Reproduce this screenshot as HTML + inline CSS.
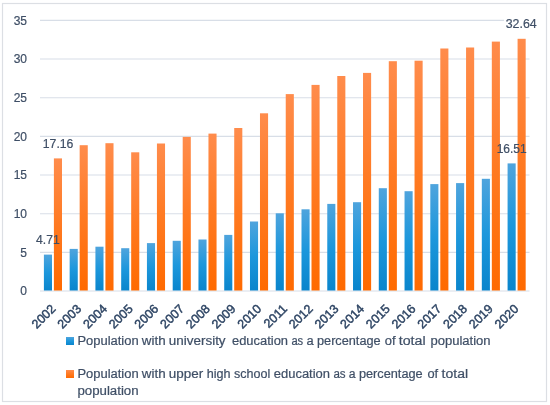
<!DOCTYPE html>
<html><head><meta charset="utf-8"><title>chart</title>
<style>
html,body{margin:0;padding:0;background:#fff;}
body{width:550px;height:405px;overflow:hidden;}
svg{display:block;}
text{font-family:"Liberation Sans",sans-serif;fill:#3f4f66;stroke:#3f4f66;stroke-width:0.2px;}
.lg{font-size:12px;}
.xl{fill:#2e4564;stroke:#2e4564;stroke-width:0.45px;}
</style></head><body>
<svg width="550" height="405" viewBox="0 0 550 405">
<defs>
<linearGradient id="gb" x1="0" y1="0" x2="0" y2="1"><stop offset="0" stop-color="#4fa4dd"/><stop offset="0.5" stop-color="#1c97dc"/><stop offset="1" stop-color="#0a85cc"/></linearGradient>
<linearGradient id="go" x1="0" y1="0" x2="0" y2="1"><stop offset="0" stop-color="#ff8c4c"/><stop offset="0.5" stop-color="#ff7a22"/><stop offset="1" stop-color="#ff6a00"/></linearGradient>
</defs>
<rect x="0" y="0" width="550" height="405" fill="#ffffff"/>
<rect x="2.5" y="3.5" width="544" height="398" fill="#ffffff" stroke="#dcdfe4" stroke-width="1.2"/>

<line x1="40" y1="291.00" x2="529.5" y2="291.00" stroke="#d8dee7" stroke-width="1.1"/>
<line x1="40" y1="252.34" x2="529.5" y2="252.34" stroke="#d8dee7" stroke-width="1.1"/>
<line x1="40" y1="213.69" x2="529.5" y2="213.69" stroke="#d8dee7" stroke-width="1.1"/>
<line x1="40" y1="175.03" x2="529.5" y2="175.03" stroke="#d8dee7" stroke-width="1.1"/>
<line x1="40" y1="136.37" x2="529.5" y2="136.37" stroke="#d8dee7" stroke-width="1.1"/>
<line x1="40" y1="97.71" x2="529.5" y2="97.71" stroke="#d8dee7" stroke-width="1.1"/>
<line x1="40" y1="59.06" x2="529.5" y2="59.06" stroke="#d8dee7" stroke-width="1.1"/>
<line x1="40" y1="20.40" x2="504" y2="20.40" stroke="#d8dee7" stroke-width="1.1"/>
<rect x="43.90" y="254.6" width="8.1" height="35.9" fill="url(#gb)"/>
<rect x="53.90" y="158.4" width="8.1" height="132.1" fill="url(#go)"/>
<rect x="69.66" y="248.9" width="8.1" height="41.6" fill="url(#gb)"/>
<rect x="79.66" y="145.2" width="8.1" height="145.3" fill="url(#go)"/>
<rect x="95.42" y="246.7" width="8.1" height="43.8" fill="url(#gb)"/>
<rect x="105.42" y="143.2" width="8.1" height="147.3" fill="url(#go)"/>
<rect x="121.18" y="248.2" width="8.1" height="42.3" fill="url(#gb)"/>
<rect x="131.18" y="152.3" width="8.1" height="138.2" fill="url(#go)"/>
<rect x="146.94" y="243.1" width="8.1" height="47.4" fill="url(#gb)"/>
<rect x="156.94" y="143.5" width="8.1" height="147.0" fill="url(#go)"/>
<rect x="172.70" y="240.8" width="8.1" height="49.7" fill="url(#gb)"/>
<rect x="182.70" y="136.9" width="8.1" height="153.6" fill="url(#go)"/>
<rect x="198.46" y="239.5" width="8.1" height="51.0" fill="url(#gb)"/>
<rect x="208.46" y="133.6" width="8.1" height="156.9" fill="url(#go)"/>
<rect x="224.22" y="234.9" width="8.1" height="55.6" fill="url(#gb)"/>
<rect x="234.22" y="128.0" width="8.1" height="162.5" fill="url(#go)"/>
<rect x="249.98" y="221.5" width="8.1" height="69.0" fill="url(#gb)"/>
<rect x="259.98" y="113.3" width="8.1" height="177.2" fill="url(#go)"/>
<rect x="275.74" y="213.3" width="8.1" height="77.2" fill="url(#gb)"/>
<rect x="285.74" y="94.1" width="8.1" height="196.4" fill="url(#go)"/>
<rect x="301.50" y="209.3" width="8.1" height="81.2" fill="url(#gb)"/>
<rect x="311.50" y="84.9" width="8.1" height="205.6" fill="url(#go)"/>
<rect x="327.26" y="203.9" width="8.1" height="86.6" fill="url(#gb)"/>
<rect x="337.26" y="76.0" width="8.1" height="214.5" fill="url(#go)"/>
<rect x="353.02" y="202.2" width="8.1" height="88.3" fill="url(#gb)"/>
<rect x="363.02" y="72.9" width="8.1" height="217.6" fill="url(#go)"/>
<rect x="378.78" y="188.2" width="8.1" height="102.3" fill="url(#gb)"/>
<rect x="388.78" y="61.2" width="8.1" height="229.3" fill="url(#go)"/>
<rect x="404.54" y="191.2" width="8.1" height="99.3" fill="url(#gb)"/>
<rect x="414.54" y="60.7" width="8.1" height="229.8" fill="url(#go)"/>
<rect x="430.30" y="184.1" width="8.1" height="106.4" fill="url(#gb)"/>
<rect x="440.30" y="48.5" width="8.1" height="242.0" fill="url(#go)"/>
<rect x="456.06" y="183.1" width="8.1" height="107.4" fill="url(#gb)"/>
<rect x="466.06" y="47.5" width="8.1" height="243.0" fill="url(#go)"/>
<rect x="481.82" y="178.8" width="8.1" height="111.7" fill="url(#gb)"/>
<rect x="491.82" y="41.6" width="8.1" height="248.9" fill="url(#go)"/>
<rect x="507.58" y="163.4" width="8.1" height="127.1" fill="url(#gb)"/>
<rect x="517.58" y="38.8" width="8.1" height="251.7" fill="url(#go)"/>
<text x="27" y="295.3" font-size="12" text-anchor="end">0</text>
<text x="27" y="256.6" font-size="12" text-anchor="end">5</text>
<text x="27" y="218.0" font-size="12" text-anchor="end">10</text>
<text x="27" y="179.3" font-size="12" text-anchor="end">15</text>
<text x="27" y="140.7" font-size="12" text-anchor="end">20</text>
<text x="27" y="102.0" font-size="12" text-anchor="end">25</text>
<text x="27" y="63.4" font-size="12" text-anchor="end">30</text>
<text x="27" y="24.7" font-size="12" text-anchor="end">35</text>
<text class="xl" transform="translate(56.40,309.6) rotate(-45)" font-size="12.5" text-anchor="end">2002</text>
<text class="xl" transform="translate(82.12,309.6) rotate(-45)" font-size="12.5" text-anchor="end">2003</text>
<text class="xl" transform="translate(107.84,309.6) rotate(-45)" font-size="12.5" text-anchor="end">2004</text>
<text class="xl" transform="translate(133.56,309.6) rotate(-45)" font-size="12.5" text-anchor="end">2005</text>
<text class="xl" transform="translate(159.28,309.6) rotate(-45)" font-size="12.5" text-anchor="end">2006</text>
<text class="xl" transform="translate(185.00,309.6) rotate(-45)" font-size="12.5" text-anchor="end">2007</text>
<text class="xl" transform="translate(210.72,309.6) rotate(-45)" font-size="12.5" text-anchor="end">2008</text>
<text class="xl" transform="translate(236.44,309.6) rotate(-45)" font-size="12.5" text-anchor="end">2009</text>
<text class="xl" transform="translate(262.16,309.6) rotate(-45)" font-size="12.5" text-anchor="end">2010</text>
<text class="xl" transform="translate(287.88,309.6) rotate(-45)" font-size="12.5" text-anchor="end">2011</text>
<text class="xl" transform="translate(313.60,309.6) rotate(-45)" font-size="12.5" text-anchor="end">2012</text>
<text class="xl" transform="translate(339.32,309.6) rotate(-45)" font-size="12.5" text-anchor="end">2013</text>
<text class="xl" transform="translate(365.04,309.6) rotate(-45)" font-size="12.5" text-anchor="end">2014</text>
<text class="xl" transform="translate(390.76,309.6) rotate(-45)" font-size="12.5" text-anchor="end">2015</text>
<text class="xl" transform="translate(416.48,309.6) rotate(-45)" font-size="12.5" text-anchor="end">2016</text>
<text class="xl" transform="translate(442.20,309.6) rotate(-45)" font-size="12.5" text-anchor="end">2017</text>
<text class="xl" transform="translate(467.92,309.6) rotate(-45)" font-size="12.5" text-anchor="end">2018</text>
<text class="xl" transform="translate(493.64,309.6) rotate(-45)" font-size="12.5" text-anchor="end">2019</text>
<text class="xl" transform="translate(519.36,309.6) rotate(-45)" font-size="12.5" text-anchor="end">2020</text>
<text x="42.8" y="147.8" font-size="12" textLength="30.6" lengthAdjust="spacingAndGlyphs">17.16</text>
<text x="36" y="244" font-size="12" textLength="23.7" lengthAdjust="spacingAndGlyphs">4.71</text>
<text x="505.7" y="27.8" font-size="12" textLength="31" lengthAdjust="spacingAndGlyphs">32.64</text>
<text x="496.7" y="152.9" font-size="12" textLength="30" lengthAdjust="spacingAndGlyphs">16.51</text>
<rect x="66" y="337" width="8" height="8" fill="url(#gb)"/>
<rect x="66" y="370" width="8" height="8" fill="url(#go)"/>
<text class="lg" x="77.4" y="345.3" textLength="61.2" lengthAdjust="spacingAndGlyphs">Population</text>
<text class="lg" x="141.8" y="345.3" textLength="23.8" lengthAdjust="spacingAndGlyphs">with</text>
<text class="lg" x="168.8" y="345.3" textLength="56.8" lengthAdjust="spacingAndGlyphs">university</text>
<text class="lg" x="232.0" y="345.3" textLength="56.0" lengthAdjust="spacingAndGlyphs">education</text>
<text class="lg" x="291.4" y="345.3" textLength="11.8" lengthAdjust="spacingAndGlyphs">as</text>
<text class="lg" x="306.4" y="345.3" textLength="7.2" lengthAdjust="spacingAndGlyphs">a</text>
<text class="lg" x="317.0" y="345.3" textLength="63.6" lengthAdjust="spacingAndGlyphs">percentage</text>
<text class="lg" x="384.8" y="345.3" textLength="10.8" lengthAdjust="spacingAndGlyphs">of</text>
<text class="lg" x="398.8" y="345.3" textLength="26.8" lengthAdjust="spacingAndGlyphs">total</text>
<text class="lg" x="430.4" y="345.3" textLength="60.2" lengthAdjust="spacingAndGlyphs">population</text>
<text class="lg" x="77.4" y="377.8" textLength="61.2" lengthAdjust="spacingAndGlyphs">Population</text>
<text class="lg" x="141.8" y="377.8" textLength="23.8" lengthAdjust="spacingAndGlyphs">with</text>
<text class="lg" x="168.8" y="377.8" textLength="34.4" lengthAdjust="spacingAndGlyphs">upper</text>
<text class="lg" x="206.8" y="377.8" textLength="23.8" lengthAdjust="spacingAndGlyphs">high</text>
<text class="lg" x="234.0" y="377.8" textLength="36.2" lengthAdjust="spacingAndGlyphs">school</text>
<text class="lg" x="273.8" y="377.8" textLength="56.2" lengthAdjust="spacingAndGlyphs">education</text>
<text class="lg" x="333.4" y="377.8" textLength="12.2" lengthAdjust="spacingAndGlyphs">as</text>
<text class="lg" x="348.8" y="377.8" textLength="6.8" lengthAdjust="spacingAndGlyphs">a</text>
<text class="lg" x="358.9" y="377.8" textLength="63.8" lengthAdjust="spacingAndGlyphs">percentage</text>
<text class="lg" x="427.4" y="377.8" textLength="10.7" lengthAdjust="spacingAndGlyphs">of</text>
<text class="lg" x="441.6" y="377.8" textLength="26.5" lengthAdjust="spacingAndGlyphs">total</text>
<text class="lg" x="77.4" y="395.3" textLength="61.2" lengthAdjust="spacingAndGlyphs">population</text>
</svg></body></html>
